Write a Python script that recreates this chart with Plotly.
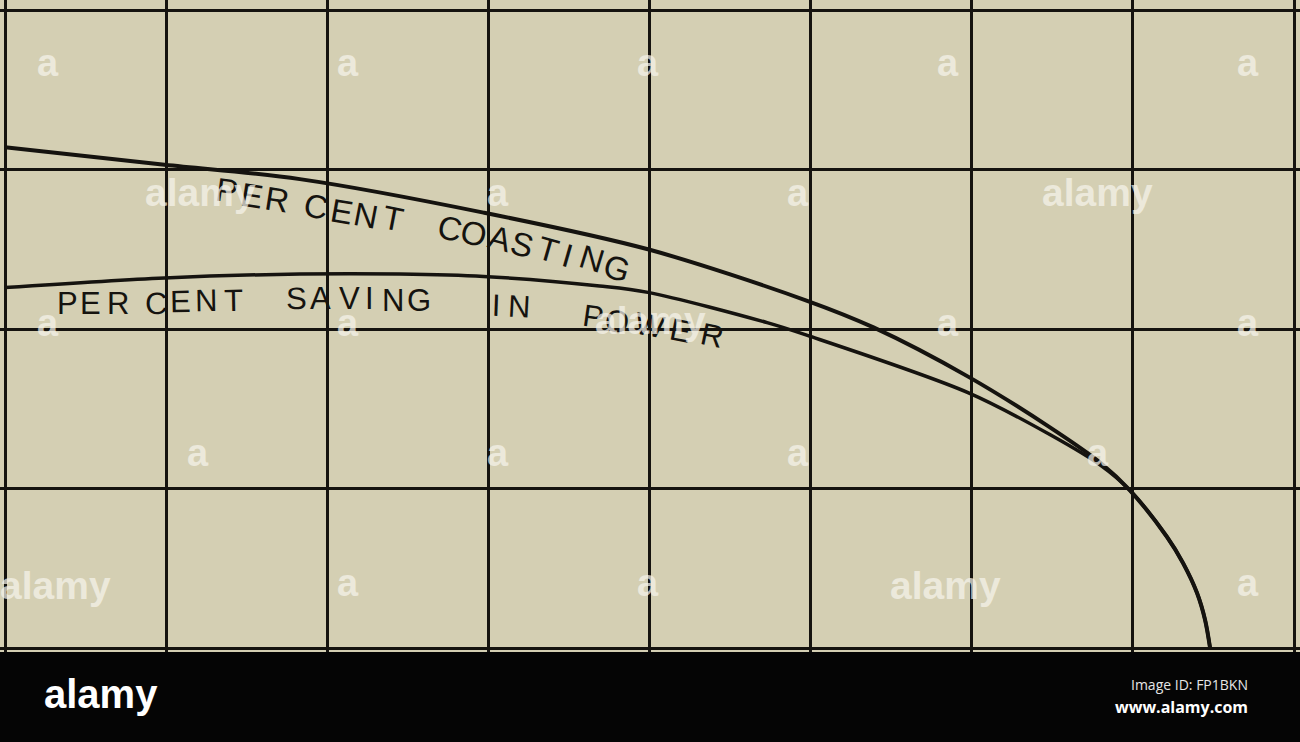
import plotly.graph_objects as go

# ---- data (grid units: x 0..80, y 0..40) ----
coast_x = [0, 9.9, 18.3, 29.7, 39.9, 49.7, 53.9, 59.8, 64.9, 68.0, 69.8, 72.12, 73.11, 73.98, 74.48, 74.79]
coast_y = [31.4, 30.3, 29.4, 27.3, 25.0, 21.8, 20.1, 17.0, 13.8, 11.6, 9.9, 6.96, 5.33, 3.45, 1.76, 0.0]

saving_x = [0, 9.9, 18.3, 24.5, 29.7, 36.9, 39.9, 47.3, 49.8, 59.8, 64.9, 68.0, 69.8, 72.12, 73.11, 73.98, 74.48, 74.79]
saving_y = [22.6, 23.2, 23.45, 23.45, 23.3, 22.7, 22.3, 20.4, 19.6, 16.0, 13.35, 11.45, 9.9, 6.96, 5.33, 3.45, 1.76, 0.0]

grid_x = [0, 10, 20, 30, 40, 50, 60, 70, 80]
grid_y = [0, 10, 20, 30, 40]

# label letters: (char, x, y, angle) in data units
coast_label = "PERCENTCOASTING"
coast_lx = [13.8, 15.3, 16.9, 19.3, 20.9, 22.4, 24.1, 27.6, 29.1, 30.7, 32.1, 33.7, 34.9, 36.4, 38.0]
coast_ly = [28.7, 28.4, 28.1, 27.7, 27.4, 27.1, 26.9, 26.3, 26.0, 25.7, 25.3, 25.0, 24.6, 24.4, 23.8]
coast_ang = [8, 9, 9, 10, 10, 11, 11, 13, 14, 15, 15, 16, 16, 17, 17]

saving_label = "PERCENTSAVINGINPOWER"
saving_lx = [3.9, 5.3, 7.0, 9.4, 10.9, 12.5, 14.2, 18.1, 19.6, 21.4, 22.6, 24.1, 25.7, 30.5, 31.9, 36.5, 38.0, 40.0, 41.9, 43.9]
saving_ly = [21.6, 21.6, 21.6, 21.6, 21.7, 21.8, 21.8, 21.9, 21.9, 21.9, 21.9, 21.8, 21.8, 21.5, 21.4, 20.8, 20.5, 20.2, 19.9, 19.6]
saving_ang = [0, 0, 0, -1, -1, -1, -1, -1, 0, 0, 0, 0, 0, 2, 3, 8, 9, 10, 11, 12]

BG = "#d4cfb3"
INK = "#15130f"
PLOT_H = 652.0
W = 1300.0

fig = go.Figure()
fig.add_trace(go.Scatter(x=coast_x, y=coast_y, mode="lines",
                         line=dict(color=INK, width=4, shape="spline", smoothing=0.9),
                         hoverinfo="skip", showlegend=False))
fig.add_trace(go.Scatter(x=saving_x, y=saving_y, mode="lines",
                         line=dict(color=INK, width=3.5, shape="spline", smoothing=0.9),
                         hoverinfo="skip", showlegend=False))

LFONT = "Liberation Sans, Arial, sans-serif"
ann = []
for ch, x, y, a in zip(coast_label, coast_lx, coast_ly, coast_ang):
    ann.append(dict(x=x, y=y, text=ch, textangle=a, showarrow=False, xref="x", yref="y",
                    xanchor="center", yanchor="middle",
                    font=dict(family=LFONT, size=33, color=INK)))
for ch, x, y, a in zip(saving_label, saving_lx, saving_ly, saving_ang):
    ann.append(dict(x=x, y=y, text=ch, textangle=a, showarrow=False, xref="x", yref="y",
                    xanchor="center", yanchor="middle",
                    font=dict(family=LFONT, size=31, color=INK)))


def pp(px, py):
    # image pixel -> paper fraction of the plot area
    return px / W, 1 - py / PLOT_H


WM = "rgba(246,244,236,0.72)"
WMFONT = "Liberation Sans Narrow, Liberation Sans, Arial, sans-serif"
small_a = [(48, 63), (348, 63), (648, 63), (948, 63), (1248, 63),
           (498, 193), (798, 193),
           (48, 323), (348, 323), (948, 323), (1248, 323),
           (198, 453), (498, 453), (798, 453), (1098, 453),
           (348, 583), (648, 583), (1248, 583)]
big_alamy = [(200, 193), (1097, 193), (650, 320), (55, 585), (945, 585)]
for px, py in small_a:
    x, y = pp(px, py)
    ann.append(dict(x=x, y=y, xref="paper", yref="paper", text="<b>a</b>",
                    xanchor="center", yanchor="middle",
                    showarrow=False, font=dict(family=WMFONT, size=38, color=WM)))
for px, py in big_alamy:
    x, y = pp(px, py)
    ann.append(dict(x=x, y=y, xref="paper", yref="paper", text="<b>alamy</b>",
                    xanchor="center", yanchor="middle",
                    showarrow=False, font=dict(family=WMFONT, size=39, color=WM)))

# bottom bar texts
x, y = pp(101, 694)
ann.append(dict(x=x, y=y, xref="paper", yref="paper", text="<b>alamy</b>",
                xanchor="center", yanchor="middle",
                showarrow=False, font=dict(family=WMFONT, size=40, color="white")))
x, y = pp(1250, 684)
ann.append(dict(x=x, y=y, xref="paper", yref="paper", text="Image ID: FP1BKN",
                xanchor="right", yanchor="middle", showarrow=False,
                font=dict(family="Open Sans, Noto Sans, sans-serif", size=14, color="#e6e6e6")))
x, y = pp(1250, 707)
ann.append(dict(x=x, y=y, xref="paper", yref="paper", text="<b>www.alamy.com</b>",
                xanchor="right", yanchor="middle", showarrow=False,
                font=dict(family="Open Sans, Noto Sans, sans-serif", size=16, color="white")))

axis_common = dict(showticklabels=False, ticks="", zeroline=False, showline=False,
                   showgrid=True, gridcolor=INK, gridwidth=3, fixedrange=True)
fig.update_layout(
    width=1300, height=742,
    margin=dict(l=0, r=0, t=0, b=90, pad=0),
    paper_bgcolor="#050505",
    plot_bgcolor=BG,
    xaxis=dict(range=[-0.31, 80.37], tickmode="array", tickvals=grid_x, **axis_common),
    yaxis=dict(range=[-0.25, 40.63], tickmode="array", tickvals=grid_y, **axis_common),
    annotations=ann,
    showlegend=False,
)
fig.write_html("out.html", config={"displayModeBar": False},
               post_script="document.body.style.margin='0';document.body.style.padding='0';")
